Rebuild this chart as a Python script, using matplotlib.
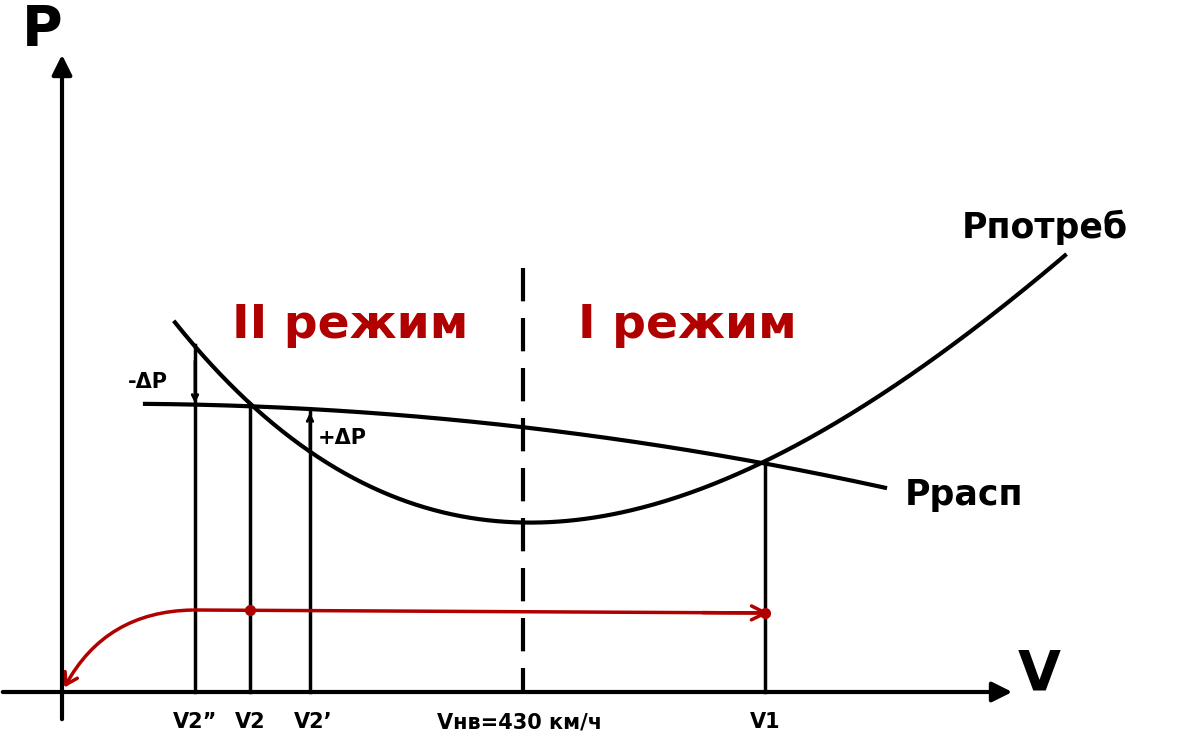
import numpy as np
import matplotlib
matplotlib.use("Agg")
import matplotlib.pyplot as plt
from matplotlib.patches import FancyArrowPatch

# Curve points (in image pixel coordinates)
potreb_x = [175, 250, 310, 400, 530, 650, 765, 900, 1000, 1065]
potreb_y = [322, 405, 450, 500, 522, 505, 463, 380, 310, 255]
rasp_x = [145, 250, 400, 525, 765, 885]
rasp_y = [404, 406, 415, 428, 463, 488]
vlines_x = [195, 250, 310, 765]
vlines_top = [345, 405, 412, 463]
tick_labels = ["V2\u201d", "V2", "V2\u2019", "Vнв=430 км/ч", "V1"]
tick_x = [195, 250, 313, 520, 765]
dash_x = 523

fig = plt.figure(figsize=(12, 7.44), dpi=100)
ax = fig.add_axes([0, 0, 1, 1])
ax.set_xlim(0, 1200); ax.set_ylim(744, 0); ax.axis("off")

def smooth(xs, ys, deg, n=300):
    c = np.polyfit(xs, ys, deg)
    xx = np.linspace(min(xs), max(xs), n)
    return xx, np.polyval(c, xx)

ax.plot(*smooth(potreb_x, potreb_y, 4), color="black", lw=3)
ax.plot(*smooth(rasp_x, rasp_y, 2), color="black", lw=3)

arw = dict(arrowstyle="-|>,head_length=1.2,head_width=0.6", color="black", lw=3)
ax.annotate("", xy=(1015, 692), xytext=(0, 692), arrowprops=arw)
ax.annotate("", xy=(62, 52), xytext=(62, 722), arrowprops=arw)

for x, t in zip(vlines_x, vlines_top):
    ax.plot([x, x], [692, t], color="black", lw=2.5)
ax.annotate("", xy=(195, 406), xytext=(195, 358),
            arrowprops=dict(arrowstyle="->", color="black", lw=2))
ax.annotate("", xy=(310, 410), xytext=(310, 450),
            arrowprops=dict(arrowstyle="->", color="black", lw=2))
ax.plot([dash_x, dash_x], [268, 692], color="black", lw=3, ls=(0, (8, 4)))

red = "#b00000"
ax.plot([195, 765], [610, 613], color=red, lw=2.5)
ax.annotate("", xy=(772, 613), xytext=(700, 612.6),
            arrowprops=dict(arrowstyle="->,head_length=1,head_width=0.5", color=red, lw=2.5))
ax.add_patch(FancyArrowPatch((195, 610), (63, 690), connectionstyle="arc3,rad=0.3",
             arrowstyle="->,head_length=8,head_width=5", color=red, lw=2.5))
ax.plot([250, 765], [610, 613], "o", color=red, ms=7)

ax.text(22, 45, "P", fontsize=40, fontweight="bold", va="baseline")
ax.text(1018, 690, "V", fontsize=40, fontweight="bold", va="baseline")
ax.text(962, 238, "Pпотреб", fontsize=25, fontweight="bold", va="baseline")
ax.text(905, 505, "Pрасп", fontsize=25, fontweight="bold", va="baseline")
ax.text(232, 338, "II режим", fontsize=34, fontweight="bold", color=red, va="baseline")
ax.text(578, 338, "I режим", fontsize=34, fontweight="bold", color=red, va="baseline")
ax.text(128, 388, "-ΔP", fontsize=15, fontweight="bold", va="baseline")
ax.text(318, 444, "+ΔP", fontsize=15, fontweight="bold", va="baseline")
for x, t in zip(tick_x, tick_labels):
    ax.text(x, 728, t, fontsize=15, fontweight="bold", ha="center", va="baseline")

fig.savefig("out.png", dpi=100, facecolor="white")
